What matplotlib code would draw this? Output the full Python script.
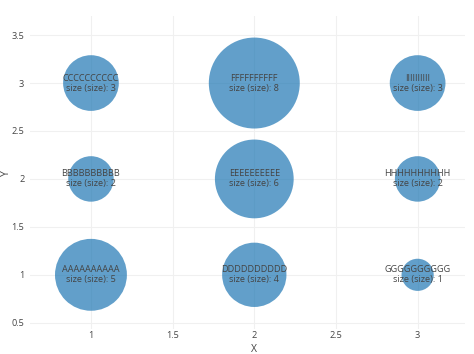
import matplotlib
matplotlib.use("Agg")
import matplotlib.pyplot as plt

x_vals = [1, 1, 1, 2, 2, 2, 3, 3, 3]
y_vals = [1, 2, 3, 1, 2, 3, 1, 2, 3]
sizes = [5, 2, 3, 4, 6, 8, 1, 2, 3]
names = ["AAAAAAAAAA", "BBBBBBBBBB", "CCCCCCCCCC", "DDDDDDDDDD", "EEEEEEEEEE",
         "FFFFFFFFFF", "GGGGGGGGGG", "HHHHHHHHHH", "IIIIIIIIII"]
x_ticks = [1, 1.5, 2, 2.5, 3]
x_tick_labels = ["1", "1.5", "2", "2.5", "3"]
y_ticks = [0.5, 1, 1.5, 2, 2.5, 3, 3.5]
y_tick_labels = ["0.5", "1", "1.5", "2", "2.5", "3", "3.5"]

plt.rcParams['font.family'] = ['Open Sans', 'DejaVu Sans']
fig = plt.figure(figsize=(4.74, 3.54), dpi=100)
ax = fig.add_axes([0.063, 0.072, 0.918, 0.883])

scale = 536.0
ax.scatter(x_vals, y_vals, s=[v * scale for v in sizes], color="#1f77b4",
           alpha=0.7, edgecolors="none", zorder=3)
for xv, yv, n, sz in zip(x_vals, y_vals, names, sizes):
    ax.text(xv, yv, f"{n}\nsize (size): {sz}", ha="center", va="center",
            fontsize=6.6, color="#444444", linespacing=1.15, zorder=4)

ax.set_xlim(0.626, 3.29)
ax.set_ylim(0.44, 3.70)
ax.set_xticks(x_ticks)
ax.set_xticklabels(x_tick_labels)
ax.set_yticks(y_ticks)
ax.set_yticklabels(y_tick_labels)
ax.grid(True, color="#f0f0f0", linewidth=0.8, zorder=0)
ax.set_axisbelow(True)
for s in ax.spines.values():
    s.set_visible(False)
ax.tick_params(axis="x", length=0, labelsize=6.6, labelcolor="#444444", pad=2)
ax.tick_params(axis="y", length=0, labelsize=6.6, labelcolor="#444444", pad=4)
fig.text(254 / 474, 1 - 349 / 354, "X", ha="center", va="center",
         fontsize=7.5, color="#444444")
fig.text(6 / 474, 1 - 173 / 354, "Y", ha="center", va="center",
         fontsize=7.5, color="#444444", rotation=90)

fig.savefig("out.png", dpi=100)
